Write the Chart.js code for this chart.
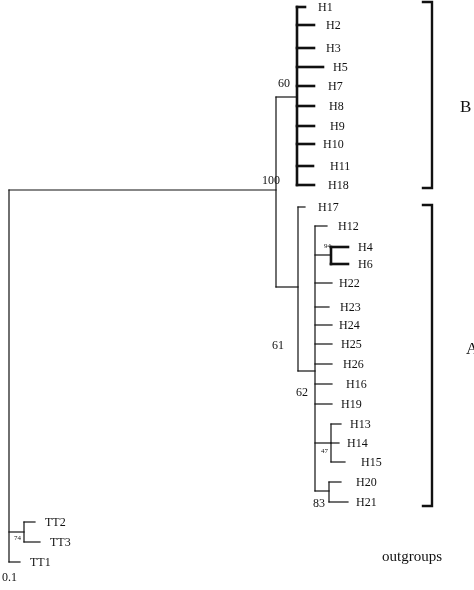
<!DOCTYPE html>
<html>
<head>
<meta charset="utf-8">
<script src="https://cdn.jsdelivr.net/npm/chart.js@4/dist/chart.umd.min.js"></script>
<style>
  html, body { margin: 0; padding: 0; background: #fff; }
  #wrap { width: 474px; height: 590px; }
</style>
</head>
<body>
<div id="wrap"><canvas id="tree"></canvas></div>
<script>
// internal nodes: depth (x), row (y), parent index, bold
const nodeX      = [9,   276, 297, 298, 315, 331, 331, 329, 24];
const nodeY      = [190, 190, 97,  287, 371, 255, 443, 491, 532];
const nodeParent = [-1,  0,   1,   1,   3,   4,   4,   4,   0];
const nodeBold   = [false, false, true, false, false, true, false, false, false];

// tips: name, branch end (x), row (y), parent node, label x
const tipNames  = ['H1','H2','H3','H5','H7','H8','H9','H10','H11','H18',
                   'H17','H12','H4','H6','H22','H23','H24','H25','H26','H16','H19',
                   'H13','H14','H15','H20','H21','TT2','TT3','TT1'];
const tipX      = [305,314,314,323,314,314,314,314,313,314,
                   305,327,348,348,332,329,332,332,332,332,332,
                   341,339,345,341,348,35,40,20];
const tipY      = [7,25,48,67,86,106,126,144,166,185,
                   207,226,247,264,283,307,325,344,364,384,404,
                   424,443,462,482,502,522,542,562];
const tipParent = [2,2,2,2,2,2,2,2,2,2,
                   3,4,5,5,4,4,4,4,4,4,4,
                   6,6,6,7,7,8,8,0];
const tipLabelX = [318,326,326,333,328,329,330,323,330,328,
                   318,338,358,358,339,340,339,341,343,346,341,
                   350,347,361,356,356,45,50,30];

// support values
const supText = ['100','60','61','62','83','94','47','74','0.1'];
const supX    = [262, 278, 272, 296, 313, 324, 321, 14, 2];
const supY    = [181, 84,  346, 393, 504, 246, 451, 538, 578];
const supSize = [12, 12, 12, 12, 12, 7, 7, 7, 12];

// clade brackets
const bracketName = ['B', 'A'];
const bracketTop  = [2, 205];
const bracketBot  = [188, 506];
const bracketLblY = [108, 350];
const bracketLblX = [460, 466];

const datasets = [];
function seg(pts, width) {
  datasets.push({
    data: pts, showLine: true, pointRadius: 0, borderColor: '#111',
    borderWidth: width, fill: false, borderCapStyle: 'square'
  });
}

nodeX.forEach((x, i) => {
  const p = nodeParent[i];
  if (p >= 0) seg([{x: nodeX[p], y: nodeY[i]}, {x: x, y: nodeY[i]}], nodeBold[p] ? 2.6 : 1.2);
  const ys = [];
  nodeParent.forEach((pp, j) => { if (pp === i) ys.push(nodeY[j]); });
  tipParent.forEach((pp, j) => { if (pp === i) ys.push(tipY[j]); });
  seg([{x: x, y: Math.min(...ys)}, {x: x, y: Math.max(...ys)}], nodeBold[i] ? 2.6 : 1.2);
});
tipX.forEach((x, j) => {
  const p = tipParent[j];
  seg([{x: nodeX[p], y: tipY[j]}, {x: x, y: tipY[j]}], nodeBold[p] ? 2.6 : 1.2);
});
bracketTop.forEach((t, i) => {
  const b = bracketBot[i];
  seg([{x: 423, y: t}, {x: 432, y: t}, {x: 432, y: b}, {x: 423, y: b}], 2.4);
});

const textPlugin = {
  id: 'treeText',
  afterDatasetsDraw(chart) {
    const {ctx, scales: {x, y}} = chart;
    ctx.save();
    ctx.fillStyle = '#111';
    ctx.textBaseline = 'middle';
    ctx.font = '12px "Liberation Serif"';
    tipNames.forEach((n, i) => ctx.fillText(n, x.getPixelForValue(tipLabelX[i]), y.getPixelForValue(tipY[i] + 1)));
    supText.forEach((s, i) => {
      ctx.font = supSize[i] + 'px "Liberation Serif"';
      ctx.fillText(s, x.getPixelForValue(supX[i]), y.getPixelForValue(supY[i]));
    });
    ctx.font = '17px "Liberation Serif"';
    bracketName.forEach((b, i) => ctx.fillText(b, x.getPixelForValue(bracketLblX[i]), y.getPixelForValue(bracketLblY[i])));
    ctx.font = '15px "Liberation Serif"';
    ctx.fillText('outgroups', x.getPixelForValue(382), y.getPixelForValue(557));
    ctx.restore();
  }
};

new Chart(document.getElementById('tree'), {
  type: 'scatter',
  data: { datasets },
  options: {
    responsive: true,
    maintainAspectRatio: false,
    animation: false,
    layout: { padding: 0 },
    plugins: { legend: { display: false }, tooltip: { enabled: false } },
    scales: {
      x: { type: 'linear', min: 0, max: 474, display: false },
      y: { type: 'linear', min: 0, max: 590, reverse: true, display: false }
    }
  },
  plugins: [textPlugin]
});
</script>
</body>
</html>
